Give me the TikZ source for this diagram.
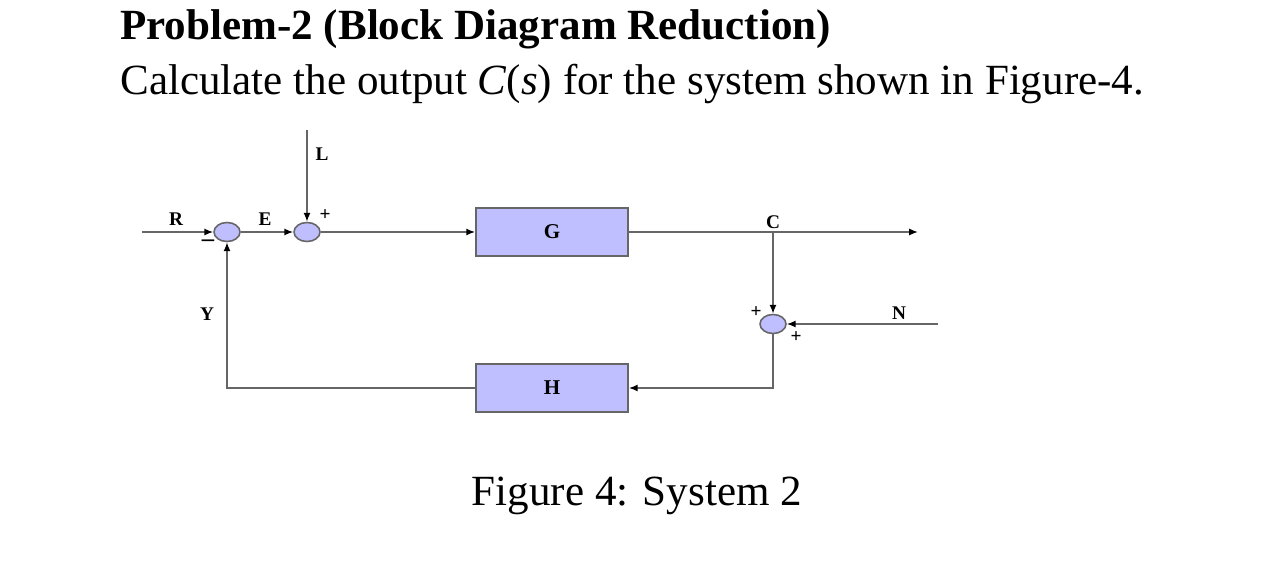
\documentclass[tikz,border=0pt]{standalone}
\usepackage{fontspec}
\setmainfont{Liberation Serif}
\usetikzlibrary{arrows.meta,shapes.geometric}
\begin{document}
\begin{tikzpicture}[x=0.02cm,y=-0.02cm,
  ln/.style={draw=gray!80!black,line width=0.9pt},
  ar/.style={ln,-{Latex[length=5pt,width=4pt,black]}},
  sum/.style={ellipse,draw=gray!80!black,fill=blue!25,line width=0.9pt,minimum width=0.52cm,minimum height=0.38cm,inner sep=0pt},
  blk/.style={rectangle,draw=gray!80!black,fill=blue!25,line width=1pt,minimum width=3.04cm,minimum height=0.96cm,font=\bfseries\fontsize{12}{14}\selectfont},
  lab/.style={font=\bfseries\fontsize{11}{13}\selectfont,inner sep=0pt}]
\useasboundingbox (0,0) rectangle (1280,570);
\node[anchor=west,font=\bfseries\fontsize{24.5}{28}\selectfont,inner sep=0pt] (t1) at (120,29) {Problem-2 (Block Diagram Reduction)};
\node[anchor=west,font=\fontsize{24.5}{28}\selectfont,inner sep=0pt] (t2) at (120,84) {Calculate the output \textit{C}(\textit{s}) for the system shown in Figure-4.};
\node[font=\fontsize{24.5}{28}\selectfont,inner sep=0pt] (cap) at (637,496) {Figure 4: System 2};
\node[sum] (s1) at (227,232) {};
\node[sum] (s2) at (307,232) {};
\node[sum] (s3) at (773,324) {};
\node[blk] (G) at (552,232) {G};
\node[blk] (H) at (552,388) {H};
\coordinate (rin) at (142,232);
\coordinate (lin) at (307,130);
\coordinate (cout) at (918,232);
\coordinate (cb) at (773,232);
\coordinate (nin) at (938,324);
\draw[ar] (rin) -- (s1);
\draw[ar] (s1) -- (s2);
\draw[ar] (lin) -- (s2);
\draw[ar] (s2) -- (G);
\draw[ar] (G) -- (cout);
\draw[ar] (cb) -- (s3);
\draw[ar] (nin) -- (s3);
\draw[ar] (s3) |- (H);
\draw[ar] (H) -| (s1);
\node[lab] at (176,219) {R};
\node[lab] at (265,219) {E};
\node[lab] at (322,154) {L};
\node[lab] at (773,222) {C};
\node[lab] at (899,313) {N};
\node[lab] at (207,314) {Y};
\node[lab] at (325,215) {+};
\node[lab] at (208,243) {\fontsize{14}{14}\selectfont --};
\node[lab] at (756,312) {+};
\node[lab] at (796,337) {+};
\end{tikzpicture}
\end{document}
